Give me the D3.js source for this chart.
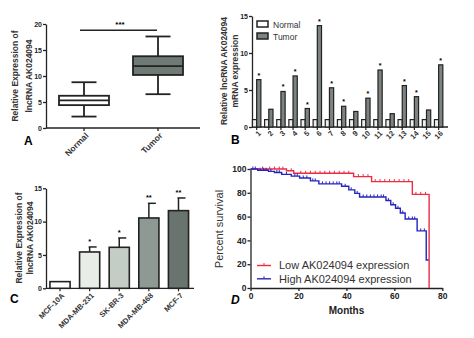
<!DOCTYPE html>
<html>
<head>
<meta charset="utf-8">
<script src="https://cdn.jsdelivr.net/npm/d3@7"></script>
<style>
body { margin: 0; background: #fff; }
svg { display: block; font-family: "Liberation Sans", Arial, sans-serif; }
</style>
</head>
<body>
<script>
// ---- panel A: box plot, [min, q1, median, q3, max]
const boxGroups = ["Normal", "Tumor"];
const boxStats = [[2.2, 4.4, 5.3, 6.2, 8.8], [6.5, 10.2, 11.9, 13.8, 17.6]];
const boxFills = ["#ffffff", "#6f7a75"];
const boxTicks = [0, 5, 10, 15, 20];
const boxSigLevel = 18.8;

// ---- panel B: paired samples
const sampleIds = ["1", "2", "3", "4", "5", "6", "7", "8", "9", "10", "11", "12", "13", "14", "15", "16"];
const normalExpr = [1, 1, 1, 1, 1, 1, 1, 1, 1, 1, 1, 1, 1, 1, 1, 1];
const tumorExpr = [6.4, 2.4, 4.8, 6.9, 2.5, 13.7, 5.3, 2.8, 2.1, 3.9, 7.7, 1.8, 5.6, 4.1, 2.3, 8.4];
const tumorStars = ["*", "", "*", "*", "*", "*", "*", "*", "", "*", "*", "", "*", "*", "", "*"];
const pairTicks = [0, 5, 10, 15];

// ---- panel C: cell lines
const cellLines = ["MCF-10A", "MDA-MB-231", "SK-BR-3", "MDA-MB-468", "MCF-7"];
const cellMeans = [1.0, 5.45, 6.15, 10.55, 11.65];
const cellErr = [0, 0.75, 1.4, 2.2, 1.9];
const cellStars = ["", "*", "*", "**", "**"];
const cellFills = ["#ffffff", "#e9ede7", "#c4ccc6", "#8f9994", "#69746f"];
const cellTicks = [0, 5, 10, 15];

// ---- panel D: Kaplan-Meier steps [month, percent]
const lowSteps = [[0, 100], [15, 98.5], [18, 96.4], [43, 93.6], [50.5, 89.4], [67.5, 78.7], [74.5, 0]];
const highSteps = [[0, 100], [3, 99], [7.5, 98], [10, 97], [13, 95.5], [17, 94], [20.5, 92.5], [25, 90],
    [28.5, 87.5], [38, 85.5], [41, 82.5], [43.5, 79.5], [45.5, 76.5], [56.5, 73.5], [58.5, 70],
    [60.5, 67], [62.5, 63], [64.5, 58], [69.5, 48], [73.3, 23.5], [74.3, 23.5]];
const lowCensor = [5, 8, 10, 12, 13.5, 17, 21, 23, 25, 27, 29, 31, 33, 35, 37, 39, 41, 45, 47, 49,
    52, 54, 56, 58, 60, 62, 64, 66, 69, 71, 73];
const highCensor = [1, 2, 4, 5.5, 6.5, 8.5, 11, 12, 15, 18.5, 19.5, 22, 23.5, 26, 27, 30, 31.5, 33,
    34.5, 36, 37, 39.5, 42, 44.5, 47, 48.5, 50, 51.5, 53, 54.5, 55.5, 57.5, 59.5, 61.5, 63.5, 66,
    67.5, 68.5, 71, 72.5];
const survTicksX = [0, 20, 40, 60, 80];
const survTicksY = [0, 20, 40, 60, 80, 100];
const survNames = ["Low AK024094 expression", "High AK024094 expression"];
const survColors = ["#ec2c44", "#2424bc"];

const svg = d3.select("body").append("svg")
    .attr("width", 474)
    .attr("height", 338);

function yAxis(g, y, ticks, fs) {
    g.call(d3.axisLeft(y).tickValues(ticks).tickSize(3).tickPadding(1).tickSizeOuter(0))
        .call(a => a.selectAll("text").attr("font-size", fs).attr("font-weight", "bold").attr("fill", "#222"))
        .call(a => a.selectAll("line,path").attr("stroke", "#222").attr("stroke-width", 1.3));
}

function axisTitle(x, cy, lines, gap, fs, weight) {
    const t = svg.append("g").attr("transform", `translate(${x},${cy}) rotate(-90)`);
    lines.forEach((s, i) => {
        t.append("text")
            .attr("y", i * gap)
            .attr("text-anchor", "middle")
            .attr("font-size", fs)
            .attr("font-weight", weight)
            .attr("fill", "#333")
            .text(s);
    });
}

function panelLetter(x, y, s, italic) {
    svg.append("text")
        .attr("x", x).attr("y", y)
        .attr("font-size", 12)
        .attr("font-weight", "bold")
        .attr("font-style", italic ? "italic" : "normal")
        .text(s);
}

function slantLabels(g, names, xf, y0, fs) {
    g.selectAll("text.xl").data(names).join("text")
        .attr("class", "xl")
        .attr("transform", d => `translate(${xf(d) + 3},${y0 + 6}) rotate(-45)`)
        .attr("text-anchor", "end")
        .attr("dy", "0.35em")
        .attr("font-size", fs)
        .attr("font-weight", "bold")
        .attr("fill", "#333")
        .text(d => d);
}

// ================= A =================
{
    const y = d3.scaleLinear().domain([0, 20]).range([128, 24]);
    const x = d3.scalePoint().domain(boxGroups).range([84, 158]);
    const g = svg.append("g");
    const bw = 50;

    g.append("g").attr("transform", "translate(46,0)").call(a => yAxis(a, y, boxTicks, 7));
    g.append("line").attr("x1", 46).attr("x2", 200).attr("y1", y(0)).attr("y2", y(0))
        .attr("stroke", "#222").attr("stroke-width", 1.3);
    g.selectAll("line.xt").data(boxGroups).join("line")
        .attr("x1", d => x(d)).attr("x2", d => x(d))
        .attr("y1", y(0)).attr("y2", y(0) + 3)
        .attr("stroke", "#222").attr("stroke-width", 1.3);

    const box = g.selectAll("g.box").data(boxStats).join("g").attr("class", "box")
        .attr("stroke", "#222").attr("stroke-width", 1.8);
    box.append("line")
        .attr("x1", (d, i) => x(boxGroups[i])).attr("x2", (d, i) => x(boxGroups[i]))
        .attr("y1", d => y(d[0])).attr("y2", d => y(d[4]));
    box.append("line")
        .attr("x1", (d, i) => x(boxGroups[i]) - bw / 4).attr("x2", (d, i) => x(boxGroups[i]) + bw / 4)
        .attr("y1", d => y(d[0])).attr("y2", d => y(d[0]));
    box.append("line")
        .attr("x1", (d, i) => x(boxGroups[i]) - bw / 4).attr("x2", (d, i) => x(boxGroups[i]) + bw / 4)
        .attr("y1", d => y(d[4])).attr("y2", d => y(d[4]));
    box.append("rect")
        .attr("x", (d, i) => x(boxGroups[i]) - bw / 2).attr("width", bw)
        .attr("y", d => y(d[3])).attr("height", d => y(d[1]) - y(d[3]))
        .attr("fill", (d, i) => boxFills[i]);
    box.append("line")
        .attr("x1", (d, i) => x(boxGroups[i]) - bw / 2).attr("x2", (d, i) => x(boxGroups[i]) + bw / 2)
        .attr("y1", d => y(d[2])).attr("y2", d => y(d[2]));

    g.append("line")
        .attr("x1", x("Normal") - 4).attr("x2", x("Tumor") - 1)
        .attr("y1", y(boxSigLevel)).attr("y2", y(boxSigLevel))
        .attr("stroke", "#222").attr("stroke-width", 1.3);
    g.append("text").attr("x", (x("Normal") + x("Tumor")) / 2 - 1).attr("y", y(boxSigLevel) - 3)
        .attr("text-anchor", "middle").attr("font-size", 8).attr("font-weight", "bold").text("***");

    slantLabels(g, boxGroups, x, y(0), 8.5);
    axisTitle(18, 76, ["Relative Expression of", "lncRNA AK024094"], 14, 8.5, "bold");
    panelLetter(24, 145, "A");
}

// ================= B =================
{
    const y = d3.scaleLinear().domain([0, 15]).range([127, 16]);
    const x = d3.scaleBand().domain(sampleIds).range([250.6, 444.7]);
    const g = svg.append("g");
    const bw = 4.2;

    g.append("g").attr("transform", "translate(252,0)").call(a => yAxis(a, y, pairTicks, 7));
    g.append("line").attr("x1", 252).attr("x2", 448).attr("y1", y(0)).attr("y2", y(0))
        .attr("stroke", "#222").attr("stroke-width", 1.3);
    g.selectAll("line.xt").data(sampleIds).join("line")
        .attr("x1", d => x(d) + x.bandwidth() / 2).attr("x2", d => x(d) + x.bandwidth() / 2)
        .attr("y1", y(0)).attr("y2", y(0) + 3)
        .attr("stroke", "#222").attr("stroke-width", 1.2);

    const cx = d => x(d) + x.bandwidth() / 2;
    g.selectAll("rect.n").data(normalExpr).join("rect").attr("class", "n")
        .attr("x", (d, i) => cx(sampleIds[i]) - bw).attr("width", bw)
        .attr("y", d => y(d)).attr("height", d => y(0) - y(d))
        .attr("fill", "#eeeeee").attr("stroke", "#222").attr("stroke-width", 1.2);
    g.selectAll("rect.t").data(tumorExpr).join("rect").attr("class", "t")
        .attr("x", (d, i) => cx(sampleIds[i])).attr("width", bw)
        .attr("y", d => y(d)).attr("height", d => y(0) - y(d))
        .attr("fill", "#7d8480").attr("stroke", "#222").attr("stroke-width", 1.2);
    g.selectAll("text.st").data(tumorExpr).join("text").attr("class", "st")
        .attr("x", (d, i) => cx(sampleIds[i]) + bw / 2).attr("y", d => y(d) - 2)
        .attr("text-anchor", "middle").attr("font-size", 7).attr("font-weight", "bold")
        .text((d, i) => tumorStars[i]);

    slantLabels(g, sampleIds, cx, y(0) - 1, 7.5);
    axisTitle(227, 71, ["Relative lncRNA AK024094", "mRNA expression"], 11, 8.5, "bold");
    panelLetter(231, 144, "B");

    const leg = g.append("g").attr("transform", "translate(257,21)");
    [["Normal", "#ffffff"], ["Tumor", "#7d8480"]].forEach((e, i) => {
        leg.append("rect").attr("x", 0).attr("y", i * 12).attr("width", 11).attr("height", 6)
            .attr("fill", e[1]).attr("stroke", "#222").attr("stroke-width", 1.5);
        leg.append("text").attr("x", 16).attr("y", i * 12 + 6.5)
            .attr("font-size", 8.5).attr("fill", "#333").text(e[0]);
    });
}

// ================= C =================
{
    const y = d3.scaleLinear().domain([0, 15]).range([288.3, 188.3]);
    const x = d3.scaleBand().domain(cellLines).range([45.5, 193]).paddingInner(0.32).paddingOuter(0.15);
    const g = svg.append("g");

    g.append("g").attr("transform", "translate(46,0)").call(a => yAxis(a, y, cellTicks, 7));
    g.append("line").attr("x1", 46).attr("x2", 194).attr("y1", y(0)).attr("y2", y(0))
        .attr("stroke", "#222").attr("stroke-width", 1.3);
    const cx = d => x(d) + x.bandwidth() / 2;
    g.selectAll("line.xt").data(cellLines).join("line")
        .attr("x1", cx).attr("x2", cx)
        .attr("y1", y(0)).attr("y2", y(0) + 3)
        .attr("stroke", "#222").attr("stroke-width", 1.2);

    g.selectAll("line.eb").data(cellMeans).join("line").attr("class", "eb")
        .attr("x1", (d, i) => cx(cellLines[i])).attr("x2", (d, i) => cx(cellLines[i]))
        .attr("y1", d => y(d)).attr("y2", (d, i) => y(d + cellErr[i]))
        .attr("stroke", "#222").attr("stroke-width", 1.5);
    g.selectAll("line.cap").data(cellMeans).join("line").attr("class", "cap")
        .attr("x1", (d, i) => cx(cellLines[i]) - 1).attr("x2", (d, i) => cx(cellLines[i]) + 7)
        .attr("y1", (d, i) => y(d + cellErr[i])).attr("y2", (d, i) => y(d + cellErr[i]))
        .attr("stroke", "#222").attr("stroke-width", 1.5)
        .attr("display", (d, i) => cellErr[i] > 0 ? null : "none");
    g.selectAll("rect.c").data(cellMeans).join("rect").attr("class", "c")
        .attr("x", (d, i) => x(cellLines[i])).attr("width", x.bandwidth())
        .attr("y", d => y(d)).attr("height", d => y(0) - y(d))
        .attr("fill", (d, i) => cellFills[i]).attr("stroke", "#222").attr("stroke-width", 1.6);
    g.selectAll("text.st").data(cellMeans).join("text").attr("class", "st")
        .attr("x", (d, i) => cx(cellLines[i]))
        .attr("y", (d, i) => y(d + cellErr[i]) - 3)
        .attr("text-anchor", "middle").attr("font-size", 7.5).attr("font-weight", "bold")
        .text((d, i) => cellStars[i]);

    slantLabels(g, cellLines, cx, y(0), 7.5);
    axisTitle(22, 238, ["Relative Expression of", "lncRNA AK024094"], 11, 8.5, "bold");
    panelLetter(10, 303, "C");
}

// ================= D =================
{
    const x = d3.scaleLinear().domain([0, 80]).range([250.5, 442.3]);
    const y = d3.scaleLinear().domain([0, 100]).range([288, 169]);
    const g = svg.append("g");

    g.append("g").attr("transform", "translate(250.5,0)").call(a => yAxis(a, y, survTicksY, 8.5));
    g.append("g").attr("transform", `translate(0,${y(0)})`)
        .call(d3.axisBottom(x).tickValues(survTicksX).tickSize(3).tickPadding(2).tickSizeOuter(0))
        .call(a => a.selectAll("text").attr("font-size", 8.5).attr("font-weight", "bold").attr("fill", "#222"))
        .call(a => a.selectAll("line,path").attr("stroke", "#222").attr("stroke-width", 1.3));

    const step = d3.line().x(d => x(d[0])).y(d => y(d[1])).curve(d3.curveStepAfter);
    const valueAt = (steps, m) => steps[d3.bisector(d => d[0]).right(steps, m) - 1][1];

    [[lowSteps, lowCensor], [highSteps, highCensor]].forEach((s, k) => {
        g.append("path").attr("d", step(s[0]))
            .attr("fill", "none").attr("stroke", survColors[k]).attr("stroke-width", 1.4);
        g.selectAll("line.cz" + k).data(s[1]).join("line").attr("class", "cz" + k)
            .attr("x1", d => x(d)).attr("x2", d => x(d))
            .attr("y1", d => y(valueAt(s[0], d))).attr("y2", d => y(valueAt(s[0], d)) - 2.5)
            .attr("stroke", survColors[k]).attr("stroke-width", 1);
    });

    survNames.forEach((n, k) => {
        const ly = 265.5 + k * 13.3;
        g.append("line").attr("x1", 257).attr("x2", 271).attr("y1", ly).attr("y2", ly)
            .attr("stroke", survColors[k]).attr("stroke-width", 1.4);
        g.append("line").attr("x1", 264).attr("x2", 264).attr("y1", ly).attr("y2", ly - 2.5)
            .attr("stroke", survColors[k]).attr("stroke-width", 1);
        g.append("text").attr("x", 279).attr("y", ly + 3.8)
            .attr("font-size", 11).attr("fill", "#333").text(n);
    });

    g.append("text").attr("x", 346.5).attr("y", 314).attr("text-anchor", "middle")
        .attr("font-size", 10).attr("font-weight", "bold").attr("fill", "#222").text("Months");
    axisTitle(223, 229, ["Percent survival"], 0, 11, "normal");
    panelLetter(231, 304, "D", true);
}
</script>
</body>
</html>
